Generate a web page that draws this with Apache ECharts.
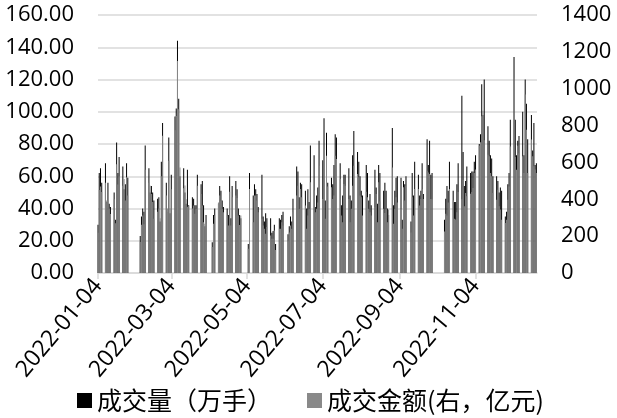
<!DOCTYPE html>
<html><head><meta charset="utf-8">
<script src="https://cdn.jsdelivr.net/npm/echarts@6/dist/echarts.min.js"></script>
<style>html,body{margin:0;padding:0;background:#fff}#c{width:617px;height:418px}</style>
</head><body><div id="c"></div>
<script>
const year = 2022;
const dates = [
'01-04','01-05','01-06','01-07','01-10','01-11','01-12','01-13','01-14','01-17','01-18','01-19','01-20','01-21','01-24','01-25','01-26','01-27','01-28',
'02-07','02-08','02-09','02-10','02-11','02-14','02-15','02-16','02-17','02-18','02-21','02-22','02-23','02-24','02-25','02-28',
'03-01','03-02','03-03','03-04','03-07','03-08','03-09','03-10','03-11','03-14','03-15','03-16','03-17','03-18','03-21','03-22','03-23','03-24','03-25','03-28','03-29','03-30','03-31',
'04-01','04-06','04-07','04-08','04-11','04-12','04-13','04-14','04-15','04-18','04-19','04-20','04-21','04-22','04-25','04-26','04-27','04-28','04-29',
'05-05','05-06','05-09','05-10','05-11','05-12','05-13','05-16','05-17','05-18','05-19','05-20','05-23','05-24','05-25','05-26','05-27','05-30','05-31',
'06-01','06-02','06-06','06-07','06-08','06-09','06-10','06-13','06-14','06-15','06-16','06-17','06-20','06-21','06-22','06-23','06-24','06-27','06-28','06-29','06-30',
'07-01','07-04','07-05','07-06','07-07','07-08','07-11','07-12','07-13','07-14','07-15','07-18','07-19','07-20','07-21','07-22','07-25','07-26','07-27','07-28','07-29',
'08-01','08-02','08-03','08-04','08-05','08-08','08-09','08-10','08-11','08-12','08-15','08-16','08-17','08-18','08-19','08-22','08-23','08-24','08-25','08-26','08-29','08-30','08-31',
'09-01','09-02','09-05','09-06','09-07','09-08','09-09','09-13','09-14','09-15','09-16','09-19','09-20','09-21','09-22','09-23','09-26','09-27','09-28','09-29','09-30',
'10-10','10-11','10-12','10-13','10-14','10-17','10-18','10-19','10-20','10-21','10-24','10-25','10-26','10-27','10-28','10-31',
'11-01','11-02','11-03','11-04','11-07','11-08','11-09','11-10','11-11','11-14','11-15','11-16','11-17','11-18','11-21','11-22','11-23','11-24','11-25','11-28','11-29','11-30',
'12-01','12-02','12-05','12-06','12-07','12-08','12-09','12-12','12-13','12-14','12-15','12-16','12-19','12-20','12-21','12-22','12-23'
];
// 成交量（万手）
const volume = [
30,62,65,56,68,44,56,43,41,50,33,81,62,72,66,52,55,68,59,
23,35,40,38,79,65,50,54,50,45,46,47,32,69,93,56,
38,84,37,61,97,102,144,108,60,65,50,43,64,42,47,46,42,42,61,55,57,42,29,
36,19,36,40,43,54,51,45,41,40,36,60,34,54,57,52,40,36,34,
18,62,48,55,52,49,41,61,35,32,37,34,34,25,26,30,18,34,33,
36,38,24,29,35,32,46,66,63,47,56,55,51,40,52,44,79,73,41,48,53,
82,70,96,45,87,56,59,55,67,86,84,68,42,48,61,61,65,48,45,73,88,
75,69,60,51,48,67,62,45,49,42,64,53,43,67,62,51,56,51,40,36,90,42,51,
59,60,59,33,57,55,60,32,62,48,69,61,48,51,68,49,83,67,82,61,62,
33,46,54,51,69,51,44,44,55,68,110,75,54,57,66,62,
63,63,69,73,80,86,117,98,120,91,82,73,71,60,60,57,50,53,51,35,38,55,
62,95,134,95,73,82,85,100,73,120,105,83,98,76,93,67,68
];
// 成交金额（亿元，右轴）
const amount = [
218,450,470,440,490,394,394,350,320,400,270,590,480,525,473,510,393,519,420,
168,262,312,265,560,490,473,429,385,294,333,350,297,525,745,420,
350,609,350,455,775,852,1150,888,573,460,475,400,360,365,350,366,321,348,474,429,366,276,267,
267,141,267,312,383,420,393,348,330,312,258,441,258,411,420,407,312,261,312,
131,456,276,420,420,393,330,294,258,240,213,249,204,186,186,231,125,240,240,
276,258,176,220,258,240,330,420,473,348,456,411,366,240,312,348,492,447,330,348,383,
582,402,672,294,636,470,465,402,420,636,618,510,312,276,483,474,402,276,348,474,582,
537,519,420,411,312,441,411,348,330,312,357,429,276,492,388,348,326,348,276,345,573,267,348,
411,383,348,240,465,394,473,220,411,312,456,456,366,402,456,402,555,546,537,402,400,
225,321,312,383,456,393,294,290,330,440,400,505,362,434,416,430,
440,461,543,561,690,710,850,880,720,642,633,543,525,434,398,452,362,344,289,271,289,398,
470,687,1060,630,560,690,650,633,543,968,778,543,724,633,579,561,543
];
const tickLabels = ['2022-01-04','2022-03-04','2022-05-04','2022-07-04','2022-09-04','2022-11-04'];
const axisStart = '2022-01-04';
const axisEnd = '2022-12-23';
const seriesNames = ['成交量（万手）','成交金额(右，亿元)'];

const DAY = 86400000;
function ts(s){ const p = s.split('-').map(Number); return Date.UTC(p[0], p[1]-1, p[2]); }
const t0 = ts(axisStart);
const dayIdx = s => Math.round((ts(s) - t0) / DAY);
const tickDays = tickLabels.map(dayIdx);
const volData = dates.map((d,i)=>[dayIdx(year+'-'+d), volume[i]]);
const amtData = dates.map((d,i)=>[dayIdx(year+'-'+d), amount[i]]);
const pad = n => (n<10?'0':'')+n;
function dayLabel(v){ const d = new Date(t0 + Math.round(v)*DAY); return d.getUTCFullYear()+'-'+pad(d.getUTCMonth()+1)+'-'+pad(d.getUTCDate()); }
const font = "'Open Sans','Noto Sans CJK SC',sans-serif";
const cjk = "'Noto Sans CJK SC','Open Sans',sans-serif";

const chart = echarts.init(document.getElementById('c'), null, {renderer:'canvas'});
chart.setOption({
  animation:false,
  backgroundColor:'#fff',
  grid:{left:98,right:80,top:15,bottom:145,containLabel:false},
  legend:{
    data:[{name:seriesNames[0],icon:'rect'},{name:seriesNames[1],icon:'rect'}],
    left:72, top:383, itemWidth:15, itemHeight:15, itemGap:35,
    textStyle:{fontSize:25,color:'#000',fontFamily:cjk}
  },
  xAxis:{
    type:'value',
    min:0,
    max:dayIdx(axisEnd)+0.5,
    axisLine:{show:true,lineStyle:{color:'#d9d9d9',width:1.5}},
    axisTick:{show:true,customValues:tickDays,length:6,lineStyle:{color:'#d9d9d9',width:1.5}},
    axisLabel:{customValues:tickDays,rotate:50,fontSize:23,color:'#000',fontFamily:font,margin:9,formatter:dayLabel},
    splitLine:{show:false}
  },
  yAxis:[
    {type:'value',min:0,max:160,interval:20,
     axisLine:{show:false},axisTick:{show:false},
     axisLabel:{fontSize:22,color:'#000',fontFamily:font,margin:24,formatter:v=>v.toFixed(2)},
     splitLine:{show:true,lineStyle:{color:'#d9d9d9',width:1.5}}},
    {type:'value',min:0,max:1400,interval:200,position:'right',
     axisLine:{show:false},axisTick:{show:false},
     axisLabel:{fontSize:22,color:'#000',fontFamily:font,margin:24,formatter:v=>String(v)},
     splitLine:{show:false}}
  ],
  series:[
    {name:seriesNames[0],type:'bar',yAxisIndex:0,data:volData,barWidth:1,barGap:'-100%',
     itemStyle:{color:'#000000'}},
    {name:seriesNames[1],type:'bar',yAxisIndex:1,data:amtData,barWidth:1,barGap:'-100%',
     itemStyle:{color:'#898989'}}
  ]
});
</script></body></html>
